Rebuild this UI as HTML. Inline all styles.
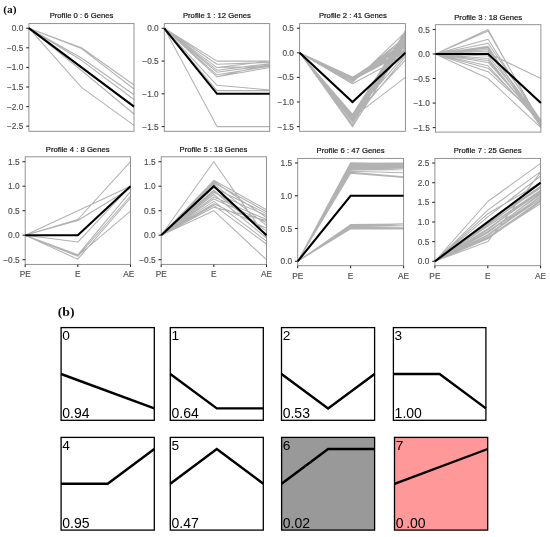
<!DOCTYPE html>
<html><head><meta charset="utf-8"><title>Figure</title>
<style>
html,body{margin:0;padding:0;background:#fff;}
svg{display:block;font-family:"Liberation Sans",sans-serif;}
</style></head><body>
<svg width="550" height="537" viewBox="0 0 550 537">
<rect width="550" height="537" fill="#fff"/>
<text x="3.3" y="13.0" font-family="Liberation Serif, serif" font-weight="bold" font-size="10.5" textLength="13.4" lengthAdjust="spacingAndGlyphs" fill="#111">(a)</text>
<text x="57.8" y="316" font-family="Liberation Serif, serif" font-weight="bold" font-size="12.2" textLength="16.8" lengthAdjust="spacingAndGlyphs" fill="#111">(b)</text>
<g>
<path d="M28.9 28.2L81.5 47.8L134.0 85.0M28.9 28.2L81.5 48.6L134.0 89.0M28.9 28.2L81.5 58.0L134.0 94.8M28.9 28.2L81.5 60.3L134.0 99.5M28.9 28.2L81.5 70.5L134.0 114.0M28.9 28.2L81.5 87.4L134.0 125.4" fill="none" stroke="#b2b2b2" stroke-width="1.05" stroke-linejoin="round"/>
<rect x="28.9" y="23.6" width="105.1" height="107.7" fill="none" stroke="#878787" stroke-width="0.9"/>
</g>
<line x1="26.2" x2="28.9" y1="28.2" y2="28.2" stroke="#262626" stroke-width="1.05"/>
<text x="23.3" y="31.2" text-anchor="end" font-size="8.3" fill="#4d4d4d" stroke="#4d4d4d" stroke-width="0.15">0.0</text>
<line x1="26.2" x2="28.9" y1="47.8" y2="47.8" stroke="#262626" stroke-width="1.05"/>
<text x="23.3" y="50.8" text-anchor="end" font-size="8.3" fill="#4d4d4d" stroke="#4d4d4d" stroke-width="0.15">−0.5</text>
<line x1="26.2" x2="28.9" y1="67.4" y2="67.4" stroke="#262626" stroke-width="1.05"/>
<text x="23.3" y="70.4" text-anchor="end" font-size="8.3" fill="#4d4d4d" stroke="#4d4d4d" stroke-width="0.15">−1.0</text>
<line x1="26.2" x2="28.9" y1="87.0" y2="87.0" stroke="#262626" stroke-width="1.05"/>
<text x="23.3" y="90.0" text-anchor="end" font-size="8.3" fill="#4d4d4d" stroke="#4d4d4d" stroke-width="0.15">−1.5</text>
<line x1="26.2" x2="28.9" y1="106.6" y2="106.6" stroke="#262626" stroke-width="1.05"/>
<text x="23.3" y="109.6" text-anchor="end" font-size="8.3" fill="#4d4d4d" stroke="#4d4d4d" stroke-width="0.15">−2.0</text>
<line x1="26.2" x2="28.9" y1="126.2" y2="126.2" stroke="#262626" stroke-width="1.05"/>
<text x="23.3" y="129.2" text-anchor="end" font-size="8.3" fill="#4d4d4d" stroke="#4d4d4d" stroke-width="0.15">−2.5</text>
<text x="81.5" y="18.3" text-anchor="middle" font-size="7.7" fill="#111111" stroke="#111111" stroke-width="0.2">Profile 0 : 6 Genes</text>
<g>
<path d="M164.3 28.3L217.0 61.1L269.7 61.1M164.3 28.3L217.0 64.3L269.7 62.4M164.3 28.3L217.0 67.6L269.7 61.1M164.3 28.3L217.0 70.2L269.7 63.7M164.3 28.3L217.0 72.2L269.7 65.0M164.3 28.3L217.0 74.8L269.7 66.3M164.3 28.3L217.0 76.8L269.7 67.6M164.3 28.3L217.0 76.8L269.7 64.3M164.3 28.3L217.0 67.6L269.7 66.3M164.3 28.3L217.0 85.3L269.7 89.9M164.3 28.3L217.0 90.6L269.7 90.6M164.3 28.3L217.0 126.6L269.7 126.6" fill="none" stroke="#b2b2b2" stroke-width="1.05" stroke-linejoin="round"/>
<rect x="164.3" y="23.6" width="105.4" height="107.7" fill="none" stroke="#878787" stroke-width="0.9"/>
</g>
<line x1="161.6" x2="164.3" y1="28.3" y2="28.3" stroke="#262626" stroke-width="1.05"/>
<text x="158.7" y="31.3" text-anchor="end" font-size="8.3" fill="#4d4d4d" stroke="#4d4d4d" stroke-width="0.15">0.0</text>
<line x1="161.6" x2="164.3" y1="61.1" y2="61.1" stroke="#262626" stroke-width="1.05"/>
<text x="158.7" y="64.1" text-anchor="end" font-size="8.3" fill="#4d4d4d" stroke="#4d4d4d" stroke-width="0.15">−0.5</text>
<line x1="161.6" x2="164.3" y1="93.8" y2="93.8" stroke="#262626" stroke-width="1.05"/>
<text x="158.7" y="96.8" text-anchor="end" font-size="8.3" fill="#4d4d4d" stroke="#4d4d4d" stroke-width="0.15">−1.0</text>
<line x1="161.6" x2="164.3" y1="126.6" y2="126.6" stroke="#262626" stroke-width="1.05"/>
<text x="158.7" y="129.6" text-anchor="end" font-size="8.3" fill="#4d4d4d" stroke="#4d4d4d" stroke-width="0.15">−1.5</text>
<text x="216.9" y="18.3" text-anchor="middle" font-size="7.7" fill="#111111" stroke="#111111" stroke-width="0.2">Profile 1 : 12 Genes</text>
<g>
<path d="M299.6 52.8L352.5 76.9L405.4 51.6M299.6 52.8L352.5 77.1L405.4 46.7M299.6 52.8L352.5 77.3L405.4 47.4M299.6 52.8L352.5 77.6L405.4 42.3M299.6 52.8L352.5 77.8L405.4 51.6M299.6 52.8L352.5 78.0L405.4 45.5M299.6 52.8L352.5 78.2L405.4 51.3M299.6 52.8L352.5 78.4L405.4 49.1M299.6 52.8L352.5 78.7L405.4 50.7M299.6 52.8L352.5 78.9L405.4 43.1M299.6 52.8L352.5 79.1L405.4 51.8M299.6 52.8L352.5 79.3L405.4 43.8M299.6 52.8L352.5 79.5L405.4 41.9M299.6 52.8L352.5 79.8L405.4 39.0M299.6 52.8L352.5 80.0L405.4 52.2M299.6 52.8L352.5 80.2L405.4 36.9M299.6 52.8L352.5 80.4L405.4 44.3M299.6 52.8L352.5 80.6L405.4 50.3M299.6 52.8L352.5 80.8L405.4 45.7M299.6 52.8L352.5 82.3L405.4 32.1M299.6 52.8L352.5 83.8L405.4 55.3M299.6 52.8L352.5 114.3L405.4 32.4M299.6 52.8L352.5 114.8L405.4 34.4M299.6 52.8L352.5 115.3L405.4 42.4M299.6 52.8L352.5 115.8L405.4 44.6M299.6 52.8L352.5 116.3L405.4 41.2M299.6 52.8L352.5 116.8L405.4 42.7M299.6 52.8L352.5 117.3L405.4 47.6M299.6 52.8L352.5 117.7L405.4 30.8M299.6 52.8L352.5 118.2L405.4 34.8M299.6 52.8L352.5 118.7L405.4 47.6M299.6 52.8L352.5 119.2L405.4 40.0M299.6 52.8L352.5 119.7L405.4 36.8M299.6 52.8L352.5 120.2L405.4 43.8M299.6 52.8L352.5 120.7L405.4 37.5M299.6 52.8L352.5 121.2L405.4 38.0M299.6 52.8L352.5 121.7L405.4 39.5M299.6 52.8L352.5 122.2L405.4 37.0M299.6 52.8L352.5 126.6L405.4 43.0M299.6 52.8L352.5 124.6L405.4 38.0M299.6 52.8L352.5 116.8L405.4 60.2M299.6 52.8L352.5 120.7L405.4 56.7M299.6 52.8L352.5 115.3L405.4 54.3M299.6 52.8L352.5 117.7L405.4 77.4" fill="none" stroke="#b2b2b2" stroke-width="1.05" stroke-linejoin="round"/>
<rect x="299.6" y="23.6" width="105.8" height="107.7" fill="none" stroke="#878787" stroke-width="0.9"/>
</g>
<line x1="296.9" x2="299.6" y1="28.2" y2="28.2" stroke="#262626" stroke-width="1.05"/>
<text x="294.0" y="31.2" text-anchor="end" font-size="8.3" fill="#4d4d4d" stroke="#4d4d4d" stroke-width="0.15">0.5</text>
<line x1="296.9" x2="299.6" y1="52.8" y2="52.8" stroke="#262626" stroke-width="1.05"/>
<text x="294.0" y="55.8" text-anchor="end" font-size="8.3" fill="#4d4d4d" stroke="#4d4d4d" stroke-width="0.15">0.0</text>
<line x1="296.9" x2="299.6" y1="77.4" y2="77.4" stroke="#262626" stroke-width="1.05"/>
<text x="294.0" y="80.4" text-anchor="end" font-size="8.3" fill="#4d4d4d" stroke="#4d4d4d" stroke-width="0.15">−0.5</text>
<line x1="296.9" x2="299.6" y1="102.0" y2="102.0" stroke="#262626" stroke-width="1.05"/>
<text x="294.0" y="105.0" text-anchor="end" font-size="8.3" fill="#4d4d4d" stroke="#4d4d4d" stroke-width="0.15">−1.0</text>
<line x1="296.9" x2="299.6" y1="126.6" y2="126.6" stroke="#262626" stroke-width="1.05"/>
<text x="294.0" y="129.6" text-anchor="end" font-size="8.3" fill="#4d4d4d" stroke="#4d4d4d" stroke-width="0.15">−1.5</text>
<text x="352.9" y="18.3" text-anchor="middle" font-size="7.7" fill="#111111" stroke="#111111" stroke-width="0.2">Profile 2 : 41 Genes</text>
<g>
<path d="M435.4 54.0L488.1 29.5L540.9 125.1M435.4 54.0L488.1 31.0L540.9 122.7M435.4 54.0L488.1 39.3L540.9 123.0M435.4 54.0L488.1 43.2L540.9 120.2M435.4 54.0L488.1 46.2L540.9 127.0M435.4 54.0L488.1 47.2L540.9 126.7M435.4 54.0L488.1 48.1L540.9 125.1M435.4 54.0L488.1 49.6L540.9 121.1M435.4 54.0L488.1 51.1L540.9 127.0M435.4 54.0L488.1 56.0L540.9 120.8M435.4 54.0L488.1 58.4L540.9 124.7M435.4 54.0L488.1 60.4L540.9 122.2M435.4 54.0L488.1 62.4L540.9 121.3M435.4 54.0L488.1 65.8L540.9 123.4M435.4 54.0L488.1 68.2L540.9 120.9M435.4 54.0L488.1 71.7L540.9 119.3M435.4 54.0L488.1 78.5L540.9 127.6M435.4 54.0L488.1 53.0L540.9 78.5" fill="none" stroke="#b2b2b2" stroke-width="1.05" stroke-linejoin="round"/>
<rect x="435.4" y="24.7" width="105.5" height="107.4" fill="none" stroke="#878787" stroke-width="0.9"/>
</g>
<line x1="432.7" x2="435.4" y1="29.5" y2="29.5" stroke="#262626" stroke-width="1.05"/>
<text x="429.8" y="32.5" text-anchor="end" font-size="8.3" fill="#4d4d4d" stroke="#4d4d4d" stroke-width="0.15">0.5</text>
<line x1="432.7" x2="435.4" y1="54.0" y2="54.0" stroke="#262626" stroke-width="1.05"/>
<text x="429.8" y="57.0" text-anchor="end" font-size="8.3" fill="#4d4d4d" stroke="#4d4d4d" stroke-width="0.15">0.0</text>
<line x1="432.7" x2="435.4" y1="78.5" y2="78.5" stroke="#262626" stroke-width="1.05"/>
<text x="429.8" y="81.5" text-anchor="end" font-size="8.3" fill="#4d4d4d" stroke="#4d4d4d" stroke-width="0.15">−0.5</text>
<line x1="432.7" x2="435.4" y1="103.1" y2="103.1" stroke="#262626" stroke-width="1.05"/>
<text x="429.8" y="106.1" text-anchor="end" font-size="8.3" fill="#4d4d4d" stroke="#4d4d4d" stroke-width="0.15">−1.0</text>
<line x1="432.7" x2="435.4" y1="127.6" y2="127.6" stroke="#262626" stroke-width="1.05"/>
<text x="429.8" y="130.6" text-anchor="end" font-size="8.3" fill="#4d4d4d" stroke="#4d4d4d" stroke-width="0.15">−1.5</text>
<text x="488.2" y="19.6" text-anchor="middle" font-size="7.7" fill="#111111" stroke="#111111" stroke-width="0.2">Profile 3 : 18 Genes</text>
<g>
<path d="M25.2 235.2L77.8 219.5L130.5 161.7M25.2 235.2L77.8 210.7L130.5 186.2M25.2 235.2L77.8 220.5L130.5 188.2M25.2 235.2L77.8 242.1L130.5 186.2M25.2 235.2L77.8 254.8L130.5 191.6M25.2 235.2L77.8 256.3L130.5 196.0M25.2 235.2L77.8 259.2L130.5 198.0M25.2 235.2L77.8 255.8L130.5 211.2" fill="none" stroke="#b2b2b2" stroke-width="1.05" stroke-linejoin="round"/>
<rect x="25.2" y="156.8" width="105.3" height="107.6" fill="none" stroke="#878787" stroke-width="0.9"/>
</g>
<line x1="22.5" x2="25.2" y1="161.7" y2="161.7" stroke="#262626" stroke-width="1.05"/>
<text x="19.6" y="164.7" text-anchor="end" font-size="8.3" fill="#4d4d4d" stroke="#4d4d4d" stroke-width="0.15">1.5</text>
<line x1="22.5" x2="25.2" y1="186.2" y2="186.2" stroke="#262626" stroke-width="1.05"/>
<text x="19.6" y="189.2" text-anchor="end" font-size="8.3" fill="#4d4d4d" stroke="#4d4d4d" stroke-width="0.15">1.0</text>
<line x1="22.5" x2="25.2" y1="210.7" y2="210.7" stroke="#262626" stroke-width="1.05"/>
<text x="19.6" y="213.7" text-anchor="end" font-size="8.3" fill="#4d4d4d" stroke="#4d4d4d" stroke-width="0.15">0.5</text>
<line x1="22.5" x2="25.2" y1="235.2" y2="235.2" stroke="#262626" stroke-width="1.05"/>
<text x="19.6" y="238.2" text-anchor="end" font-size="8.3" fill="#4d4d4d" stroke="#4d4d4d" stroke-width="0.15">0.0</text>
<line x1="22.5" x2="25.2" y1="259.7" y2="259.7" stroke="#262626" stroke-width="1.05"/>
<text x="19.6" y="262.7" text-anchor="end" font-size="8.3" fill="#4d4d4d" stroke="#4d4d4d" stroke-width="0.15">−0.5</text>
<text x="77.7" y="151.5" text-anchor="middle" font-size="7.7" fill="#111111" stroke="#111111" stroke-width="0.2">Profile 4 : 8 Genes</text>
<line x1="25.2" x2="25.2" y1="264.4" y2="267.0" stroke="#262626" stroke-width="1.05"/>
<text x="25.2" y="277.2" text-anchor="middle" font-size="8.3" fill="#4d4d4d" stroke="#4d4d4d" stroke-width="0.15">PE</text>
<line x1="77.8" x2="77.8" y1="264.4" y2="267.0" stroke="#262626" stroke-width="1.05"/>
<text x="77.8" y="277.2" text-anchor="middle" font-size="8.3" fill="#4d4d4d" stroke="#4d4d4d" stroke-width="0.15">E</text>
<line x1="130.5" x2="130.5" y1="264.4" y2="267.0" stroke="#262626" stroke-width="1.05"/>
<text x="128.8" y="277.2" text-anchor="middle" font-size="8.3" fill="#4d4d4d" stroke="#4d4d4d" stroke-width="0.15">AE</text>
<g>
<path d="M161.2 235.2L213.8 180.3L266.5 209.7M161.2 235.2L213.8 181.3L266.5 217.6M161.2 235.2L213.8 182.8L266.5 211.7M161.2 235.2L213.8 183.8L266.5 225.4M161.2 235.2L213.8 187.7L266.5 213.6M161.2 235.2L213.8 190.1L266.5 231.3M161.2 235.2L213.8 192.6L266.5 215.6M161.2 235.2L213.8 194.5L266.5 238.1M161.2 235.2L213.8 197.0L266.5 219.5M161.2 235.2L213.8 198.9L266.5 222.5M161.2 235.2L213.8 201.4L266.5 241.1M161.2 235.2L213.8 203.8L266.5 228.3M161.2 235.2L213.8 205.3L266.5 244.0M161.2 235.2L213.8 207.3L266.5 220.5M161.2 235.2L213.8 191.1L266.5 234.2M161.2 235.2L213.8 186.2L266.5 236.2M161.2 235.2L213.8 161.7L266.5 237.6M161.2 235.2L213.8 210.7L266.5 259.7" fill="none" stroke="#b2b2b2" stroke-width="1.05" stroke-linejoin="round"/>
<rect x="161.2" y="156.8" width="105.3" height="107.6" fill="none" stroke="#878787" stroke-width="0.9"/>
</g>
<line x1="158.5" x2="161.2" y1="161.7" y2="161.7" stroke="#262626" stroke-width="1.05"/>
<text x="155.6" y="164.7" text-anchor="end" font-size="8.3" fill="#4d4d4d" stroke="#4d4d4d" stroke-width="0.15">1.5</text>
<line x1="158.5" x2="161.2" y1="186.2" y2="186.2" stroke="#262626" stroke-width="1.05"/>
<text x="155.6" y="189.2" text-anchor="end" font-size="8.3" fill="#4d4d4d" stroke="#4d4d4d" stroke-width="0.15">1.0</text>
<line x1="158.5" x2="161.2" y1="210.7" y2="210.7" stroke="#262626" stroke-width="1.05"/>
<text x="155.6" y="213.7" text-anchor="end" font-size="8.3" fill="#4d4d4d" stroke="#4d4d4d" stroke-width="0.15">0.5</text>
<line x1="158.5" x2="161.2" y1="235.2" y2="235.2" stroke="#262626" stroke-width="1.05"/>
<text x="155.6" y="238.2" text-anchor="end" font-size="8.3" fill="#4d4d4d" stroke="#4d4d4d" stroke-width="0.15">0.0</text>
<line x1="158.5" x2="161.2" y1="259.7" y2="259.7" stroke="#262626" stroke-width="1.05"/>
<text x="155.6" y="262.7" text-anchor="end" font-size="8.3" fill="#4d4d4d" stroke="#4d4d4d" stroke-width="0.15">−0.5</text>
<text x="213.5" y="151.5" text-anchor="middle" font-size="7.7" fill="#111111" stroke="#111111" stroke-width="0.2">Profile 5 : 18 Genes</text>
<line x1="161.2" x2="161.2" y1="264.4" y2="267.0" stroke="#262626" stroke-width="1.05"/>
<text x="161.2" y="277.2" text-anchor="middle" font-size="8.3" fill="#4d4d4d" stroke="#4d4d4d" stroke-width="0.15">PE</text>
<line x1="213.8" x2="213.8" y1="264.4" y2="267.0" stroke="#262626" stroke-width="1.05"/>
<text x="213.8" y="277.2" text-anchor="middle" font-size="8.3" fill="#4d4d4d" stroke="#4d4d4d" stroke-width="0.15">E</text>
<line x1="266.5" x2="266.5" y1="264.4" y2="267.0" stroke="#262626" stroke-width="1.05"/>
<text x="266.5" y="277.2" text-anchor="middle" font-size="8.3" fill="#4d4d4d" stroke="#4d4d4d" stroke-width="0.15">AE</text>
<g>
<path d="M297.7 261.3L350.6 170.2L403.6 168.4M297.7 261.3L350.6 169.9L403.6 169.6M297.7 261.3L350.6 169.7L403.6 168.8M297.7 261.3L350.6 169.4L403.6 168.9M297.7 261.3L350.6 169.2L403.6 169.5M297.7 261.3L350.6 168.9L403.6 169.1M297.7 261.3L350.6 168.6L403.6 167.7M297.7 261.3L350.6 168.4L403.6 168.4M297.7 261.3L350.6 168.1L403.6 166.8M297.7 261.3L350.6 167.8L403.6 167.7M297.7 261.3L350.6 167.6L403.6 168.3M297.7 261.3L350.6 167.3L403.6 167.5M297.7 261.3L350.6 167.1L403.6 167.6M297.7 261.3L350.6 166.8L403.6 167.8M297.7 261.3L350.6 166.5L403.6 166.8M297.7 261.3L350.6 166.3L403.6 166.3M297.7 261.3L350.6 166.0L403.6 165.7M297.7 261.3L350.6 165.8L403.6 164.7M297.7 261.3L350.6 165.5L403.6 165.3M297.7 261.3L350.6 165.2L403.6 165.9M297.7 261.3L350.6 165.0L403.6 166.1M297.7 261.3L350.6 164.7L403.6 166.2M297.7 261.3L350.6 164.4L403.6 165.9M297.7 261.3L350.6 164.2L403.6 164.3M297.7 261.3L350.6 163.9L403.6 165.8M297.7 261.3L350.6 163.7L403.6 164.3M297.7 261.3L350.6 163.0L403.6 163.7M297.7 261.3L350.6 163.3L403.6 163.0M297.7 261.3L350.6 162.7L403.6 164.0M297.7 261.3L350.6 171.2L403.6 172.8M297.7 261.3L350.6 172.2L403.6 176.8M297.7 261.3L350.6 173.2L403.6 177.4M297.7 261.3L350.6 228.9L403.6 228.9M297.7 261.3L350.6 228.6L403.6 228.8M297.7 261.3L350.6 228.3L403.6 228.8M297.7 261.3L350.6 228.0L403.6 227.7M297.7 261.3L350.6 227.7L403.6 227.2M297.7 261.3L350.6 227.4L403.6 227.5M297.7 261.3L350.6 227.1L403.6 227.6M297.7 261.3L350.6 226.8L403.6 225.7M297.7 261.3L350.6 226.5L403.6 225.2M297.7 261.3L350.6 226.1L403.6 225.6M297.7 261.3L350.6 225.8L403.6 225.1M297.7 261.3L350.6 225.5L403.6 225.4M297.7 261.3L350.6 225.2L403.6 224.2M297.7 261.3L350.6 224.9L403.6 223.9M297.7 261.3L350.6 224.6L403.6 224.0" fill="none" stroke="#b2b2b2" stroke-width="1.05" stroke-linejoin="round"/>
<rect x="297.7" y="158.4" width="105.9" height="107.3" fill="none" stroke="#878787" stroke-width="0.9"/>
</g>
<line x1="295.0" x2="297.7" y1="163.0" y2="163.0" stroke="#262626" stroke-width="1.05"/>
<text x="292.1" y="166.0" text-anchor="end" font-size="8.3" fill="#4d4d4d" stroke="#4d4d4d" stroke-width="0.15">1.5</text>
<line x1="295.0" x2="297.7" y1="195.8" y2="195.8" stroke="#262626" stroke-width="1.05"/>
<text x="292.1" y="198.8" text-anchor="end" font-size="8.3" fill="#4d4d4d" stroke="#4d4d4d" stroke-width="0.15">1.0</text>
<line x1="295.0" x2="297.7" y1="228.5" y2="228.5" stroke="#262626" stroke-width="1.05"/>
<text x="292.1" y="231.5" text-anchor="end" font-size="8.3" fill="#4d4d4d" stroke="#4d4d4d" stroke-width="0.15">0.5</text>
<line x1="295.0" x2="297.7" y1="261.3" y2="261.3" stroke="#262626" stroke-width="1.05"/>
<text x="292.1" y="264.3" text-anchor="end" font-size="8.3" fill="#4d4d4d" stroke="#4d4d4d" stroke-width="0.15">0.0</text>
<text x="350.6" y="152.7" text-anchor="middle" font-size="7.7" fill="#111111" stroke="#111111" stroke-width="0.2">Profile 6 : 47 Genes</text>
<line x1="297.7" x2="297.7" y1="265.7" y2="268.3" stroke="#262626" stroke-width="1.05"/>
<text x="297.7" y="278.5" text-anchor="middle" font-size="8.3" fill="#4d4d4d" stroke="#4d4d4d" stroke-width="0.15">PE</text>
<line x1="350.6" x2="350.6" y1="265.7" y2="268.3" stroke="#262626" stroke-width="1.05"/>
<text x="350.6" y="278.5" text-anchor="middle" font-size="8.3" fill="#4d4d4d" stroke="#4d4d4d" stroke-width="0.15">E</text>
<line x1="403.6" x2="403.6" y1="265.7" y2="268.3" stroke="#262626" stroke-width="1.05"/>
<text x="403.6" y="278.5" text-anchor="middle" font-size="8.3" fill="#4d4d4d" stroke="#4d4d4d" stroke-width="0.15">AE</text>
<g>
<path d="M434.9 261.3L487.8 201.5L540.6 163.4M434.9 261.3L487.8 210.2L540.6 171.7M434.9 261.3L487.8 213.7L540.6 182.7M434.9 261.3L487.8 216.9L540.6 176.0M434.9 261.3L487.8 241.6L540.6 172.4M434.9 261.3L487.8 237.7L540.6 203.5M434.9 261.3L487.8 238.8L540.6 201.5M434.9 261.3L487.8 238.1L540.6 200.3M434.9 261.3L487.8 237.1L540.6 201.0M434.9 261.3L487.8 235.2L540.6 198.7M434.9 261.3L487.8 235.6L540.6 196.9M434.9 261.3L487.8 234.6L540.6 196.2M434.9 261.3L487.8 232.9L540.6 193.2M434.9 261.3L487.8 231.8L540.6 197.1M434.9 261.3L487.8 231.5L540.6 194.5M434.9 261.3L487.8 229.8L540.6 190.4M434.9 261.3L487.8 228.9L540.6 192.1M434.9 261.3L487.8 228.7L540.6 191.1M434.9 261.3L487.8 226.3L540.6 190.2M434.9 261.3L487.8 226.4L540.6 191.2M434.9 261.3L487.8 224.7L540.6 187.0M434.9 261.3L487.8 224.2L540.6 186.3M434.9 261.3L487.8 223.1L540.6 188.1M434.9 261.3L487.8 221.5L540.6 186.3M434.9 261.3L487.8 220.9L540.6 183.8" fill="none" stroke="#b2b2b2" stroke-width="1.05" stroke-linejoin="round"/>
<rect x="434.9" y="158.4" width="105.7" height="107.3" fill="none" stroke="#878787" stroke-width="0.9"/>
</g>
<line x1="432.2" x2="434.9" y1="163.0" y2="163.0" stroke="#262626" stroke-width="1.05"/>
<text x="429.3" y="166.0" text-anchor="end" font-size="8.3" fill="#4d4d4d" stroke="#4d4d4d" stroke-width="0.15">2.5</text>
<line x1="432.2" x2="434.9" y1="182.7" y2="182.7" stroke="#262626" stroke-width="1.05"/>
<text x="429.3" y="185.7" text-anchor="end" font-size="8.3" fill="#4d4d4d" stroke="#4d4d4d" stroke-width="0.15">2.0</text>
<line x1="432.2" x2="434.9" y1="202.3" y2="202.3" stroke="#262626" stroke-width="1.05"/>
<text x="429.3" y="205.3" text-anchor="end" font-size="8.3" fill="#4d4d4d" stroke="#4d4d4d" stroke-width="0.15">1.5</text>
<line x1="432.2" x2="434.9" y1="222.0" y2="222.0" stroke="#262626" stroke-width="1.05"/>
<text x="429.3" y="225.0" text-anchor="end" font-size="8.3" fill="#4d4d4d" stroke="#4d4d4d" stroke-width="0.15">1.0</text>
<line x1="432.2" x2="434.9" y1="241.6" y2="241.6" stroke="#262626" stroke-width="1.05"/>
<text x="429.3" y="244.6" text-anchor="end" font-size="8.3" fill="#4d4d4d" stroke="#4d4d4d" stroke-width="0.15">0.5</text>
<line x1="432.2" x2="434.9" y1="261.3" y2="261.3" stroke="#262626" stroke-width="1.05"/>
<text x="429.3" y="264.3" text-anchor="end" font-size="8.3" fill="#4d4d4d" stroke="#4d4d4d" stroke-width="0.15">0.0</text>
<text x="487.7" y="152.7" text-anchor="middle" font-size="7.7" fill="#111111" stroke="#111111" stroke-width="0.2">Profile 7 : 25 Genes</text>
<line x1="434.9" x2="434.9" y1="265.7" y2="268.3" stroke="#262626" stroke-width="1.05"/>
<text x="434.9" y="278.5" text-anchor="middle" font-size="8.3" fill="#4d4d4d" stroke="#4d4d4d" stroke-width="0.15">PE</text>
<line x1="487.8" x2="487.8" y1="265.7" y2="268.3" stroke="#262626" stroke-width="1.05"/>
<text x="487.8" y="278.5" text-anchor="middle" font-size="8.3" fill="#4d4d4d" stroke="#4d4d4d" stroke-width="0.15">E</text>
<line x1="540.6" x2="540.6" y1="265.7" y2="268.3" stroke="#262626" stroke-width="1.05"/>
<text x="540.6" y="278.5" text-anchor="middle" font-size="8.3" fill="#4d4d4d" stroke="#4d4d4d" stroke-width="0.15">AE</text>
<path d="M28.9 28.2L81.5 67.4L134.0 106.6" fill="none" stroke="#000" stroke-width="2.1" stroke-linejoin="miter"/>
<path d="M164.3 28.3L217.0 93.8L269.7 93.8" fill="none" stroke="#000" stroke-width="2.1" stroke-linejoin="miter"/>
<path d="M299.6 52.8L352.5 102.0L405.4 52.8" fill="none" stroke="#000" stroke-width="2.1" stroke-linejoin="miter"/>
<path d="M435.4 54.0L488.1 54.0L540.9 103.1" fill="none" stroke="#000" stroke-width="2.1" stroke-linejoin="miter"/>
<path d="M25.2 235.2L77.8 235.2L130.5 186.2" fill="none" stroke="#000" stroke-width="2.1" stroke-linejoin="miter"/>
<path d="M161.2 235.2L213.8 186.2L266.5 235.2" fill="none" stroke="#000" stroke-width="2.1" stroke-linejoin="miter"/>
<path d="M297.7 261.3L350.6 195.8L403.6 195.8" fill="none" stroke="#000" stroke-width="2.1" stroke-linejoin="miter"/>
<path d="M434.9 261.3L487.8 222.0L540.6 182.7" fill="none" stroke="#000" stroke-width="2.1" stroke-linejoin="miter"/>
<rect x="61.1" y="327.6" width="93.2" height="92.7" fill="#fff" stroke="#000" stroke-width="1.3"/>
<polyline points="61.1,374.0 154.3,408.4" fill="none" stroke="#000" stroke-width="2.4" stroke-linejoin="miter"/>
<text x="62.3" y="339.8" font-size="13.7" fill="#000">0</text>
<text x="62.3" y="418.1" font-size="14.0" fill="#000">0.94</text>
<rect x="170.3" y="327.6" width="93.0" height="92.7" fill="#fff" stroke="#000" stroke-width="1.3"/>
<polyline points="170.3,374.0 216.8,408.4 263.3,408.4" fill="none" stroke="#000" stroke-width="2.4" stroke-linejoin="miter"/>
<text x="171.5" y="339.8" font-size="13.7" fill="#000">1</text>
<text x="171.5" y="418.1" font-size="14.0" fill="#000">0.64</text>
<rect x="281.5" y="327.6" width="93.1" height="92.7" fill="#fff" stroke="#000" stroke-width="1.3"/>
<polyline points="281.5,374.0 328.1,408.4 374.6,374.0" fill="none" stroke="#000" stroke-width="2.4" stroke-linejoin="miter"/>
<text x="282.7" y="339.8" font-size="13.7" fill="#000">2</text>
<text x="282.7" y="418.1" font-size="14.0" fill="#000">0.53</text>
<rect x="393.4" y="327.6" width="92.5" height="92.7" fill="#fff" stroke="#000" stroke-width="1.3"/>
<polyline points="393.4,374.0 439.6,374.0 485.9,408.4" fill="none" stroke="#000" stroke-width="2.4" stroke-linejoin="miter"/>
<text x="394.6" y="339.8" font-size="13.7" fill="#000">3</text>
<text x="394.6" y="418.1" font-size="14.0" fill="#000">1.00</text>
<rect x="61.1" y="437.4" width="93.2" height="92.7" fill="#fff" stroke="#000" stroke-width="1.3"/>
<polyline points="61.1,483.8 107.7,483.8 154.3,449.0" fill="none" stroke="#000" stroke-width="2.4" stroke-linejoin="miter"/>
<text x="62.3" y="449.6" font-size="13.7" fill="#000">4</text>
<text x="62.3" y="527.9" font-size="14.0" fill="#000">0.95</text>
<rect x="170.3" y="437.4" width="93.0" height="92.7" fill="#fff" stroke="#000" stroke-width="1.3"/>
<polyline points="170.3,483.8 216.8,449.0 263.3,483.8" fill="none" stroke="#000" stroke-width="2.4" stroke-linejoin="miter"/>
<text x="171.5" y="449.6" font-size="13.7" fill="#000">5</text>
<text x="171.5" y="527.9" font-size="14.0" fill="#000">0.47</text>
<rect x="281.6" y="437.4" width="93.0" height="92.7" fill="#999999" stroke="#000" stroke-width="1.3"/>
<polyline points="281.6,483.8 328.1,449.0 374.6,449.0" fill="none" stroke="#000" stroke-width="2.4" stroke-linejoin="miter"/>
<text x="282.8" y="449.6" font-size="13.7" fill="#000">6</text>
<text x="282.8" y="527.9" font-size="14.0" fill="#000">0.02</text>
<rect x="394.5" y="437.4" width="93.2" height="92.7" fill="#ff9999" stroke="#000" stroke-width="1.3"/>
<polyline points="394.5,483.8 487.7,449.0" fill="none" stroke="#000" stroke-width="2.4" stroke-linejoin="miter"/>
<text x="395.7" y="449.6" font-size="13.7" fill="#000">7</text>
<text x="395.7" y="527.9" font-size="14.0" fill="#000">0 <tspan dx="-1.2">.00</tspan></text>
</svg>
</body></html>
